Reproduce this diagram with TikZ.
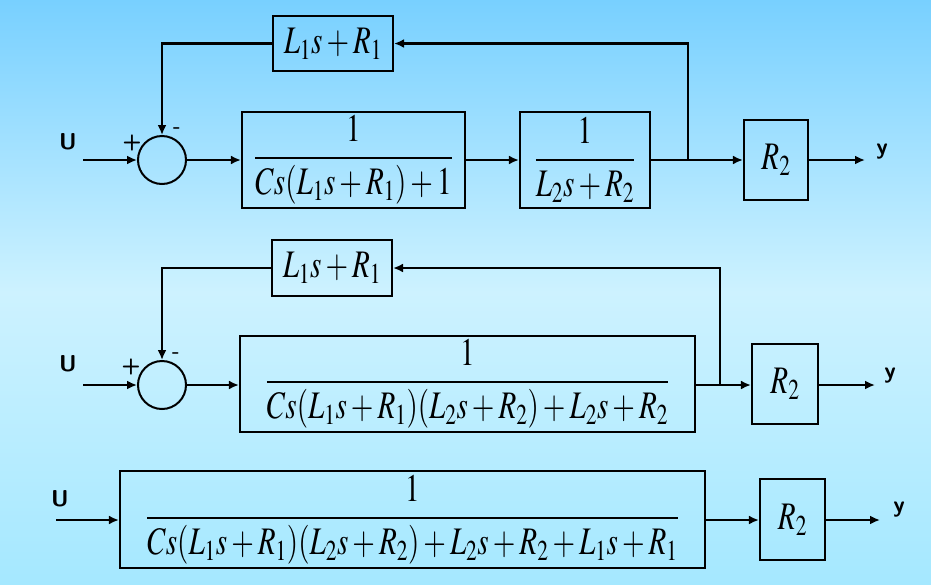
\documentclass[tikz,border=0pt]{standalone}
\usepackage{amsmath}
\usepackage{graphicx}
\usepackage{mathptmx}
\usetikzlibrary{arrows.meta}
\newcommand\tallm[1]{\scalebox{0.97}[1.3]{$#1$}}
\begin{document}
\begin{tikzpicture}[x=1pt,y=-1pt,line width=2.4pt,
  blk/.style={draw,line width=2.2pt,inner sep=0pt,font=\fontsize{30}{34}\selectfont},
  sumc/.style={draw,circle,line width=2pt,minimum size=48pt,inner sep=0pt},
  arr/.style={-{Latex[length=10pt,width=9pt]}},
  lab/.style={font=\sffamily\bfseries\fontsize{23}{26}\selectfont},
  sg/.style={font=\sffamily\bfseries\fontsize{22}{24}\selectfont}]
\shade[top color={rgb,255:red,120;green,208;blue,255},bottom color={rgb,255:red,205;green,242;blue,255}] (0,0) rectangle (931,292);
\shade[top color={rgb,255:red,205;green,242;blue,255},bottom color={rgb,255:red,165;green,232;blue,255}] (0,292) rectangle (931,584);
\useasboundingbox (0,0) rectangle (931,584);
% Row 1
\node[lab] (u1) at (68,142) {U};
\coordinate (i1) at (83,160);
\node[sumc] (s1) at (162,160) {};
\node[blk,minimum width=223pt,minimum height=96pt] (b1) at (353.5,160) {\tallm{\dfrac{1}{Cs(L_1s+R_1)+1}}};
\node[blk,minimum width=130pt,minimum height=96pt] (b2) at (585,160) {\tallm{\dfrac{1}{L_2s+R_2}}};
\node[blk,minimum width=64pt,minimum height=80pt] (r1) at (776,160) {\tallm{R_2}};
\node[blk,minimum width=120pt,minimum height=55pt] (f1) at (333,43.5) {\tallm{L_1s+R_1}};
\node[lab] (y1) at (882,152) {y};
\node[sg] (p1) at (132,143) {+};
\node[sg] (m1) at (177,131) {-};
\coordinate (o1) at (865,160);
\coordinate (br1) at (688,160);
\draw[arr] (i1) -- (s1.west);
\draw[arr] (s1.east) -- (b1.west|-s1);
\draw[arr] (b1.east|-s1) -- (b2.west|-s1);
\draw[arr] (b2.east|-s1) -- (r1.west|-s1);
\draw[arr] (r1.east|-s1) -- (o1);
\draw[arr] (br1) |- (f1.east);
\draw[arr] (f1.west) -| (s1.north);
% Row 2
\node[lab] (u2) at (68,364) {U};
\coordinate (i2) at (83,385);
\node[sumc] (s2) at (162,385) {};
\node[blk,minimum width=455pt,minimum height=96pt] (b3) at (467.5,384) {\tallm{\dfrac{1}{Cs(L_1s+R_1)(L_2s+R_2)+L_2s+R_2}}};
\node[blk,minimum width=66pt,minimum height=80pt] (r2) at (785,384) {\tallm{R_2}};
\node[blk,minimum width=120pt,minimum height=56pt] (f2) at (332,268) {\tallm{L_1s+R_1}};
\node[lab] (y2) at (890,376) {y};
\node[sg] (p2) at (131,367) {+};
\node[sg] (m2) at (176,356) {-};
\coordinate (o2) at (875,385);
\coordinate (br2) at (720,385);
\draw[arr] (i2) -- (s2.west);
\draw[arr] (s2.east) -- (b3.west|-s2);
\draw[arr] (b3.east|-s2) -- (r2.west|-s2);
\draw[arr] (r2.east|-s2) -- (o2);
\draw[arr] (br2) |- (f2.east);
\draw[arr] (f2.west) -| (s2.north);
% Row 3
\node[lab] (u3) at (60,499) {U};
\coordinate (i3) at (56,520);
\node[blk,minimum width=585pt,minimum height=97pt] (b4) at (412.5,519.5) {\tallm{\dfrac{1}{Cs(L_1s+R_1)(L_2s+R_2)+L_2s+R_2+L_1s+R_1}}};
\node[blk,minimum width=65pt,minimum height=81pt] (r3) at (792.5,519.5) {\tallm{R_2}};
\node[lab] (y3) at (899,510) {y};
\coordinate (o3) at (880,520);
\draw[arr] (i3) -- (b4.west|-i3);
\draw[arr] (b4.east|-i3) -- (r3.west|-i3);
\draw[arr] (r3.east|-i3) -- (o3);
\end{tikzpicture}
\end{document}
